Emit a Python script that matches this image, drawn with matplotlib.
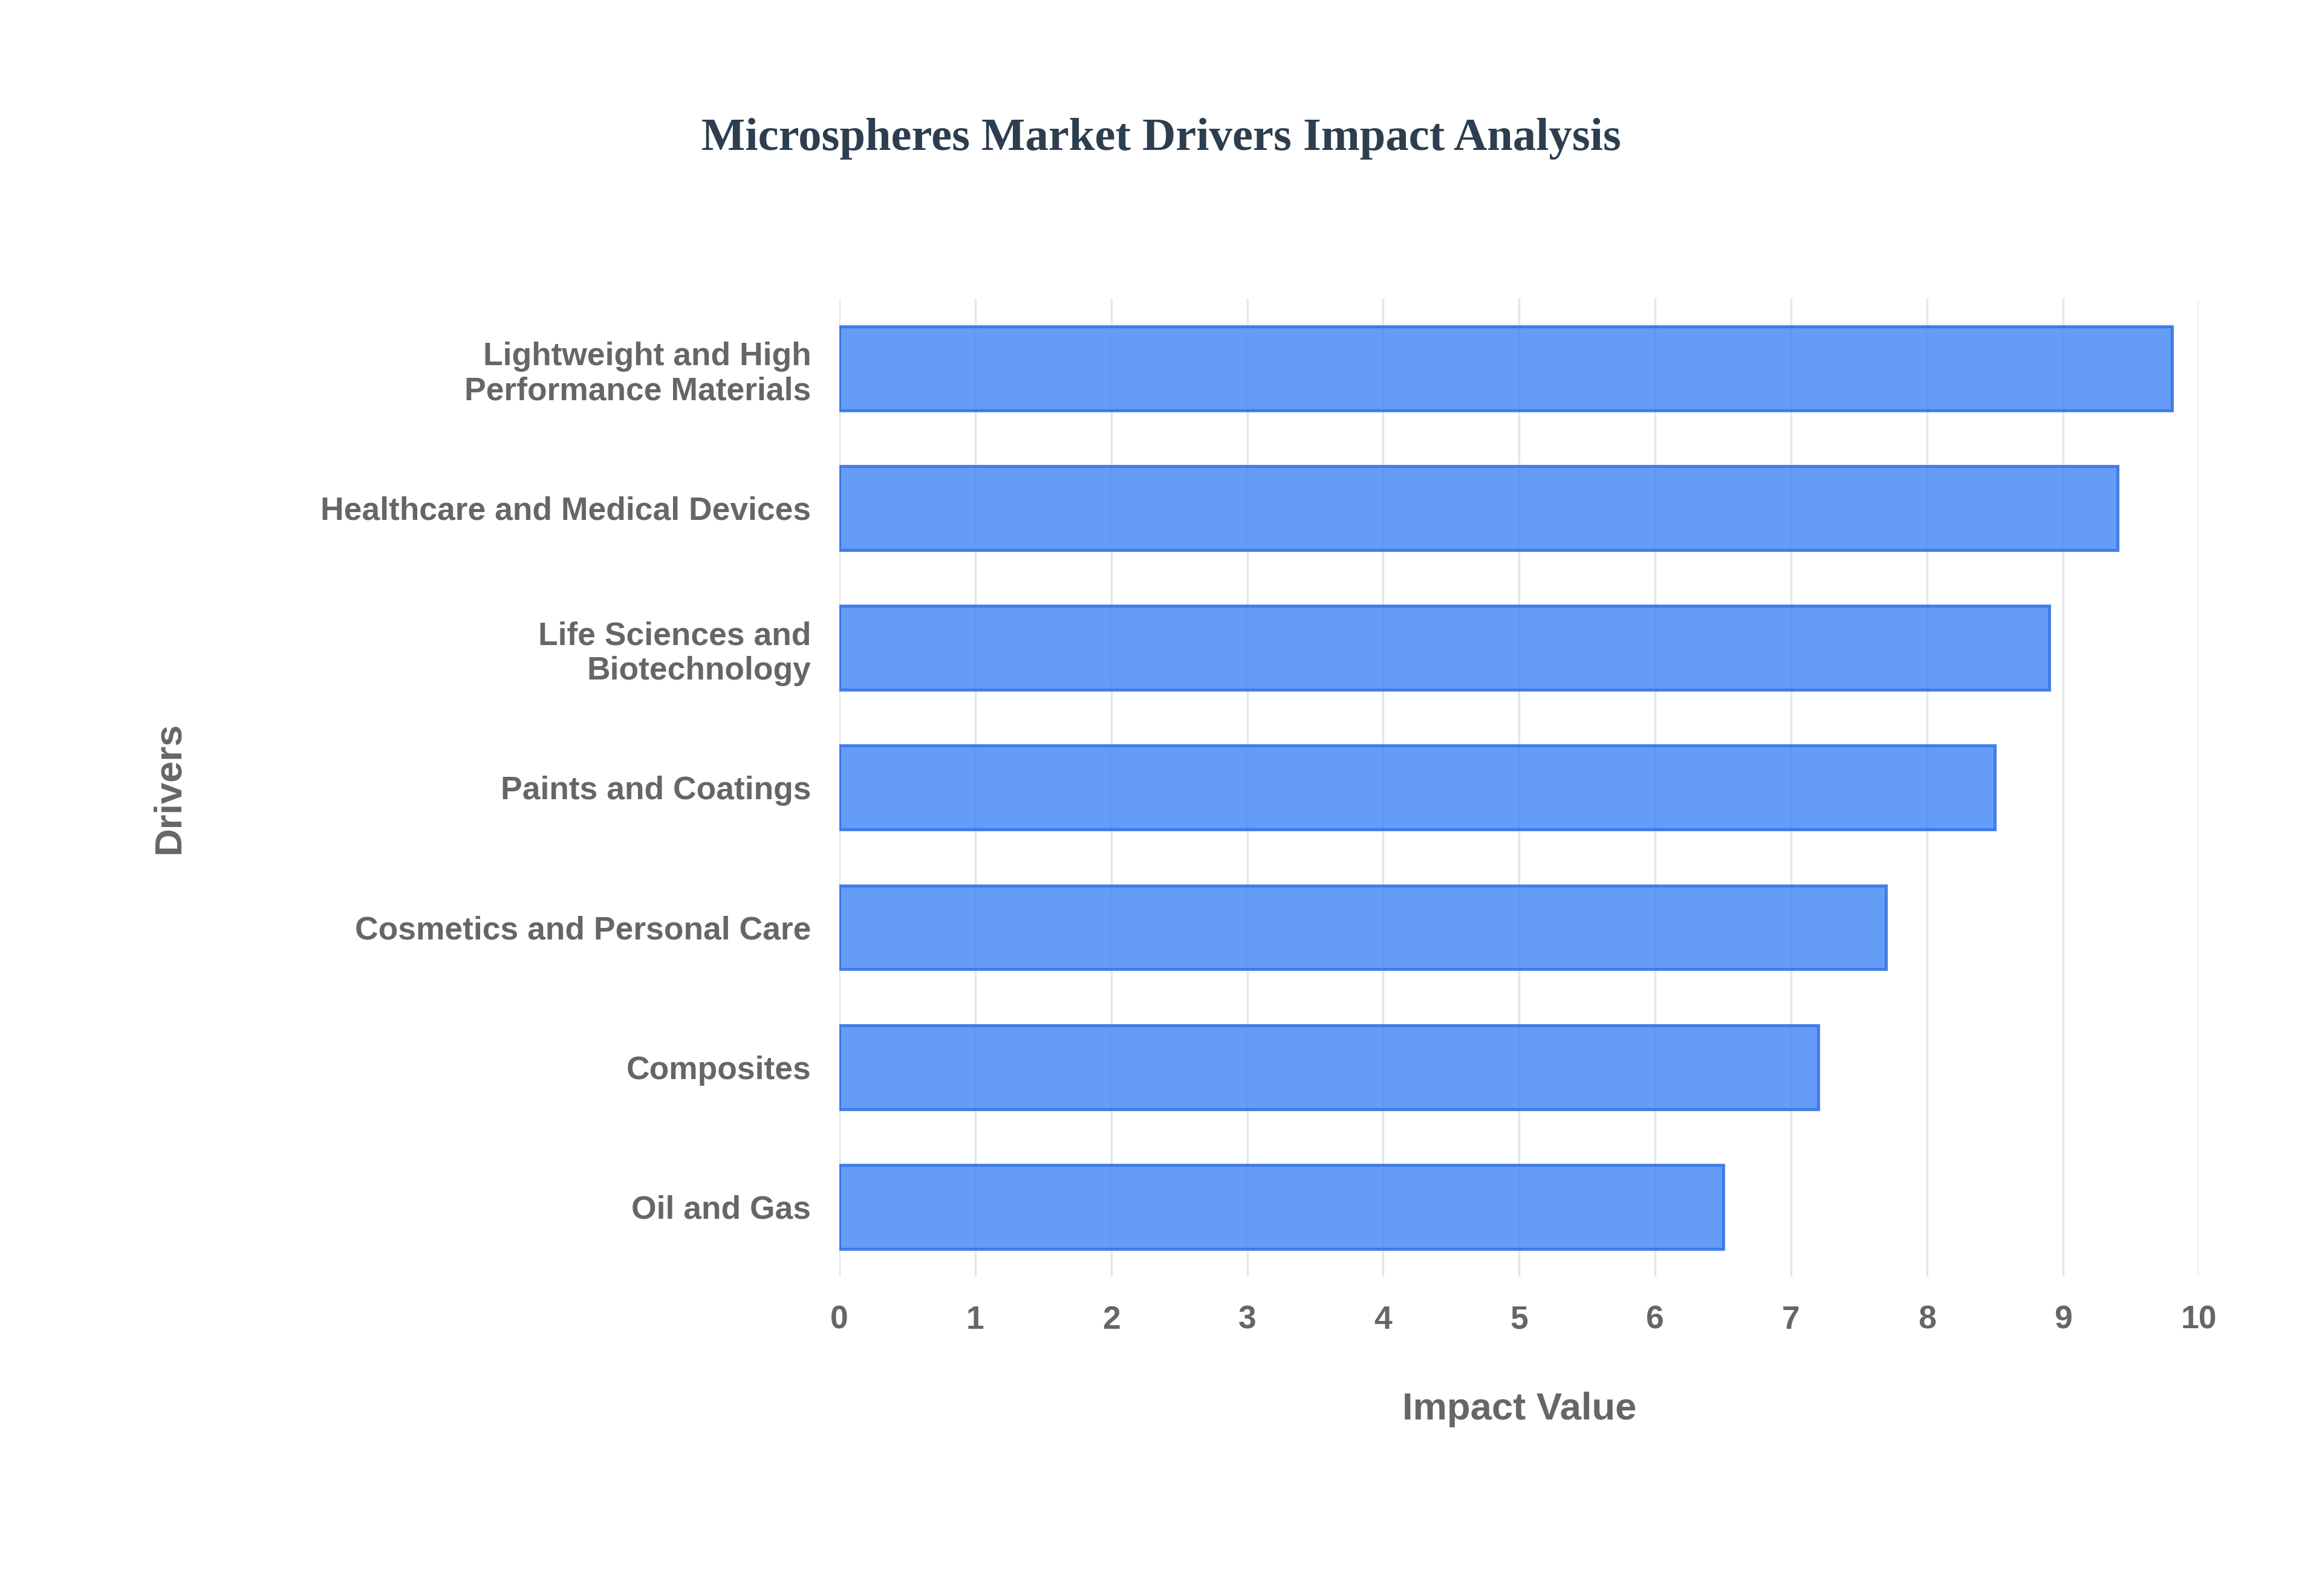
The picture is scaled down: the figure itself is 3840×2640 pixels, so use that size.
import matplotlib
matplotlib.use("Agg")
import matplotlib.pyplot as plt

drivers = ["Lightweight and High\nPerformance Materials", "Healthcare and Medical Devices",
           "Life Sciences and\nBiotechnology", "Paints and Coatings",
           "Cosmetics and Personal Care", "Composites", "Oil and Gas"]
values = [9.8, 9.4, 8.9, 8.5, 7.7, 7.2, 6.5]

fig = plt.figure(figsize=(16, 11), dpi=240)
ax = fig.add_axes([0.3615, 0.2, 0.5855, 0.613])
y = list(range(len(drivers)))[::-1]
ax.barh(y, values, height=0.6, color="#4f8ef7", alpha=0.88, edgecolor="#3474e6", linewidth=1.5, zorder=3)
ax.set_xlim(0, 10)
ax.set_ylim(-0.5, len(drivers) - 0.5)
ax.set_xticks(range(11))
ax.set_yticks(y)
ax.set_yticklabels(drivers)
for s in ax.spines.values():
    s.set_visible(False)
ax.grid(axis="x", color="#e6e6e6", linewidth=1, zorder=0)
ax.tick_params(length=0, pad=14, labelcolor="#666666")
for lab in ax.get_xticklabels() + ax.get_yticklabels():
    lab.set_fontfamily("Liberation Sans"); lab.set_fontweight("bold"); lab.set_fontsize(16)
ax.set_xlabel("Impact Value", fontsize=19, fontweight="bold", color="#666666",
              family="Liberation Sans", labelpad=28)
ax.set_ylabel("Drivers", fontsize=19, fontweight="bold", color="#666666",
              family="Liberation Sans", labelpad=30)
ax.yaxis.set_label_coords(-0.48, 0.5)
fig.text(0.5, 0.913, "Microspheres Market Drivers Impact Analysis", ha="center", va="center",
         fontsize=23, fontweight="bold", color="#2c3e50", family="Liberation Serif")
fig.savefig("out.png", dpi=240, facecolor="white")
